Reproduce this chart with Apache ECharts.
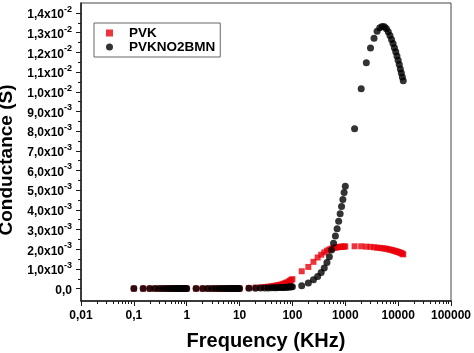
<!DOCTYPE html>
<html>
<head>
<meta charset="utf-8">
<script src="https://cdn.jsdelivr.net/npm/echarts@6/dist/echarts.min.js"></script>
<style>
  html, body { margin: 0; padding: 0; background: #fff; }
  #main { width: 474px; height: 353px; }
</style>
</head>
<body>
<div id="main"></div>
<script>
  // frequencies (kHz) read from the point positions
  const freq = [
    0.1, 0.15, 0.2, 0.25, 0.3, 0.35, 0.4, 0.45, 0.5, 0.55, 0.6, 0.65, 0.7, 0.75, 0.8, 0.85, 0.9, 0.95, 1,
    1.5, 2, 2.5, 3, 3.5, 4, 4.5, 5, 5.5, 6, 6.5, 7, 7.5, 8, 8.5, 9, 9.5, 10,
    15, 20, 25, 30, 35, 40, 45, 50, 55, 60, 65, 70, 75, 80, 85, 90, 95, 100,
    150, 200, 250, 300, 350, 400, 450, 500, 550, 600, 650, 700, 750, 800, 850, 900, 950, 1000,
    1500, 2000, 2500, 3000, 3500, 4000, 4500, 5000, 5500, 6000, 6500, 7000, 7500, 8000, 8500, 9000,
    9500, 10000, 10500, 11000, 11500, 12000, 12500
  ]

  const pvk = [
    0, 0, 0, 0, 0, 0, 0, 0, 0, 0, 0, 0, 0, 0, 0, 0, 0, 0, 0,
    0, 0, 0, 0, 0, 0, 0, 0, 0, 0, 0, 0, 0, 0, 0, 0, 0, 0.01e-3,
    0.03e-3, 0.05e-3, 0.06e-3, 0.08e-3, 0.10e-3, 0.12e-3, 0.14e-3, 0.16e-3, 0.18e-3, 0.20e-3, 0.23e-3, 0.26e-3, 0.29e-3, 0.32e-3, 0.36e-3, 0.40e-3, 0.44e-3, 0.48e-3,
    0.88e-3, 1.10e-3, 1.36e-3, 1.58e-3, 1.72e-3, 1.84e-3, 1.93e-3, 1.99e-3, 2.03e-3, 2.06e-3, 2.08e-3, 2.10e-3, 2.11e-3, 2.12e-3, 2.13e-3, 2.13e-3, 2.14e-3, 2.14e-3,
    2.15e-3, 2.15e-3, 2.13e-3, 2.12e-3, 2.10e-3, 2.08e-3, 2.07e-3, 2.05e-3, 2.04e-3, 2.02e-3, 2.00e-3, 1.98e-3, 1.96e-3, 1.94e-3, 1.92e-3,
    1.90e-3, 1.88e-3, 1.86e-3, 1.84e-3, 1.82e-3, 1.80e-3, 1.77e-3, 1.74e-3
  ]

  const pvkNo2Bmn = [
    0, 0, 0, 0, 0, 0, 0, 0, 0, 0, 0, 0, 0, 0, 0, 0, 0, 0, 0,
    0, 0, 0, 0, 0, 0, 0, 0, 0, 0, 0, 0, 0, 0, 0, 0, 0, 0.01e-3,
    0.02e-3, 0.02e-3, 0.03e-3, 0.03e-3, 0.03e-3, 0.04e-3, 0.04e-3, 0.04e-3, 0.05e-3, 0.05e-3, 0.06e-3, 0.06e-3, 0.07e-3, 0.07e-3, 0.08e-3, 0.08e-3, 0.09e-3, 0.10e-3,
    0.15e-3, 0.29e-3, 0.45e-3, 0.62e-3, 0.82e-3, 1.05e-3, 1.32e-3, 1.62e-3, 1.96e-3, 2.31e-3, 2.67e-3, 3.04e-3, 3.42e-3, 3.80e-3, 4.17e-3, 4.53e-3, 4.88e-3, 5.20e-3,
    8.12e-3, 10.15e-3, 11.47e-3, 12.23e-3, 12.72e-3, 13.08e-3, 13.25e-3, 13.32e-3, 13.30e-3, 13.20e-3, 13.05e-3, 12.86e-3, 12.66e-3, 12.45e-3, 12.24e-3, 12.03e-3,
    11.82e-3, 11.60e-3, 11.38e-3, 11.16e-3, 10.95e-3, 10.75e-3, 10.56e-3
  ]

  const xTickValues = [0.01, 0.1, 1, 10, 100, 1000, 10000, 100000]
  const xTickLabels = ['0,01', '0,1', '1', '10', '100', '1000', '10000', '100000']
  const xMinorTicks = [
    0.02, 0.03, 0.04, 0.05, 0.06, 0.07, 0.08, 0.09,
    0.2, 0.3, 0.4, 0.5, 0.6, 0.7, 0.8, 0.9,
    2, 3, 4, 5, 6, 7, 8, 9,
    20, 30, 40, 50, 60, 70, 80, 90,
    200, 300, 400, 500, 600, 700, 800, 900,
    2000, 3000, 4000, 5000, 6000, 7000, 8000, 9000,
    20000, 30000, 40000, 50000, 60000, 70000, 80000, 90000
  ]

  const yTickValues = [0, 0.001, 0.002, 0.003, 0.004, 0.005, 0.006, 0.007, 0.008, 0.009, 0.010, 0.011, 0.012, 0.013, 0.014]
  const yTickBase = ['0,0', '1,0x10', '2,0x10', '3,0x10', '4,0x10', '5,0x10', '6,0x10', '7,0x10', '8,0x10', '9,0x10', '1,0x10', '1,1x10', '1,2x10', '1,3x10', '1,4x10']
  const yTickExp = ['', '-3', '-3', '-3', '-3', '-3', '-3', '-3', '-3', '-3', '-2', '-2', '-2', '-2', '-2']
  const yMinorTicks = [0.0005, 0.0015, 0.0025, 0.0035, 0.0045, 0.0055, 0.0065, 0.0075, 0.0085, 0.0095, 0.0105, 0.0115, 0.0125, 0.0135]

  const font = 'Liberation Sans, Arial, sans-serif'
  const axisColor = '#1a1a1a'

  function pairs(ys) {
    return freq.map(function (f, i) { return [f, ys[i]] })
  }

  function xLabel(value) {
    for (let i = 0; i < xTickValues.length; i++) {
      if (Math.abs(Math.log10(value) - Math.log10(xTickValues[i])) < 1e-6) return xTickLabels[i]
    }
    return ''
  }

  function yLabel(value) {
    for (let i = 0; i < yTickValues.length; i++) {
      if (Math.abs(value - yTickValues[i]) < 1e-9) {
        if (yTickExp[i] === '') return '{b|' + yTickBase[i] + '}'
        return '{b|' + yTickBase[i] + '}{s|' + yTickExp[i] + '}'
      }
    }
    return ''
  }

  const myChart = echarts.init(document.getElementById('main'), null, { renderer: 'canvas' })

  const option = {
    animation: false,
    backgroundColor: '#fff',
    grid: {
      left: 81,
      right: 23,
      top: 3,
      bottom: 52,
      containLabel: false,
      outerBoundsMode: 'none',
      show: true,
      borderColor: '#444',
      borderWidth: 1
    },
    legend: {
      orient: 'vertical',
      left: 94,
      top: 23,
      padding: [3, 5, 3, 12],
      itemGap: 0,
      itemWidth: 7,
      itemHeight: 7,
      borderColor: '#666',
      borderWidth: 1,
      textStyle: { fontFamily: font, fontWeight: 'bold', fontSize: 13.5, color: '#000', padding: [0, 0, 0, 11] },
      data: [
        { name: 'PVK', icon: 'rect' },
        { name: 'PVKNO2BMN', icon: 'circle' }
      ]
    },
    xAxis: [
      {
        type: 'log',
        logBase: 10,
        min: 0.01,
        max: 100000,
        name: 'Frequency (KHz)',
        nameLocation: 'middle',
        nameGap: 30,
        nameTextStyle: { fontFamily: font, fontWeight: 'bold', fontSize: 20, color: '#000' },
        axisLine: { onZero: false, lineStyle: { color: axisColor, width: 1.5 } },
        axisTick: { inside: false, length: 5, lineStyle: { color: axisColor, width: 1 } },
        axisLabel: {
          fontFamily: font, fontWeight: 'bold', fontSize: 12, color: '#000', margin: 9,
          formatter: xLabel
        },
        splitLine: { show: false },
        minorTick: { show: false }
      },
      {
        type: 'log',
        logBase: 10,
        min: 0.01,
        max: 100000,
        position: 'bottom',
        axisLine: { show: false, onZero: false },
        axisTick: { inside: false, length: 3, customValues: xMinorTicks, lineStyle: { color: axisColor, width: 1 } },
        axisLabel: { show: false },
        splitLine: { show: false }
      }
    ],
    yAxis: [
      {
        type: 'value',
        min: -0.00063,
        max: 0.01451,
        name: 'Conductance (S)',
        nameLocation: 'middle',
        nameGap: 55,
        nameTextStyle: { fontFamily: font, fontWeight: 'bold', fontSize: 19, color: '#000', padding: [0, 16, 0, 0] },
        axisLine: { show: true, onZero: false, lineStyle: { color: axisColor, width: 1.5 } },
        axisTick: { show: true, inside: false, length: 5, customValues: yTickValues, lineStyle: { color: axisColor, width: 1 } },
        axisLabel: {
          customValues: yTickValues,
          margin: 9,
          formatter: yLabel,
          rich: {
            b: { fontFamily: font, fontWeight: 'bold', fontSize: 12, color: '#000', lineHeight: 16, verticalAlign: 'bottom' },
            s: { fontFamily: font, fontWeight: 'bold', fontSize: 9, color: '#000', lineHeight: 10, verticalAlign: 'top' }
          }
        },
        splitLine: { show: false }
      },
      {
        type: 'value',
        min: -0.00063,
        max: 0.01451,
        position: 'left',
        axisLine: { show: false, onZero: false },
        axisTick: { show: true, inside: false, length: 3, customValues: yMinorTicks, lineStyle: { color: axisColor, width: 1 } },
        axisLabel: { show: false },
        splitLine: { show: false }
      }
    ],
    series: [
      {
        name: 'PVK',
        type: 'scatter',
        symbol: 'rect',
        symbolSize: 6,
        itemStyle: { color: '#e8000b' },
        data: pairs(pvk)
      },
      {
        name: 'PVKNO2BMN',
        type: 'scatter',
        symbol: 'circle',
        symbolSize: 7,
        itemStyle: { color: '#000' },
        data: pairs(pvkNo2Bmn)
      }
    ]
  }

  myChart.setOption(option)
</script>
</body>
</html>
